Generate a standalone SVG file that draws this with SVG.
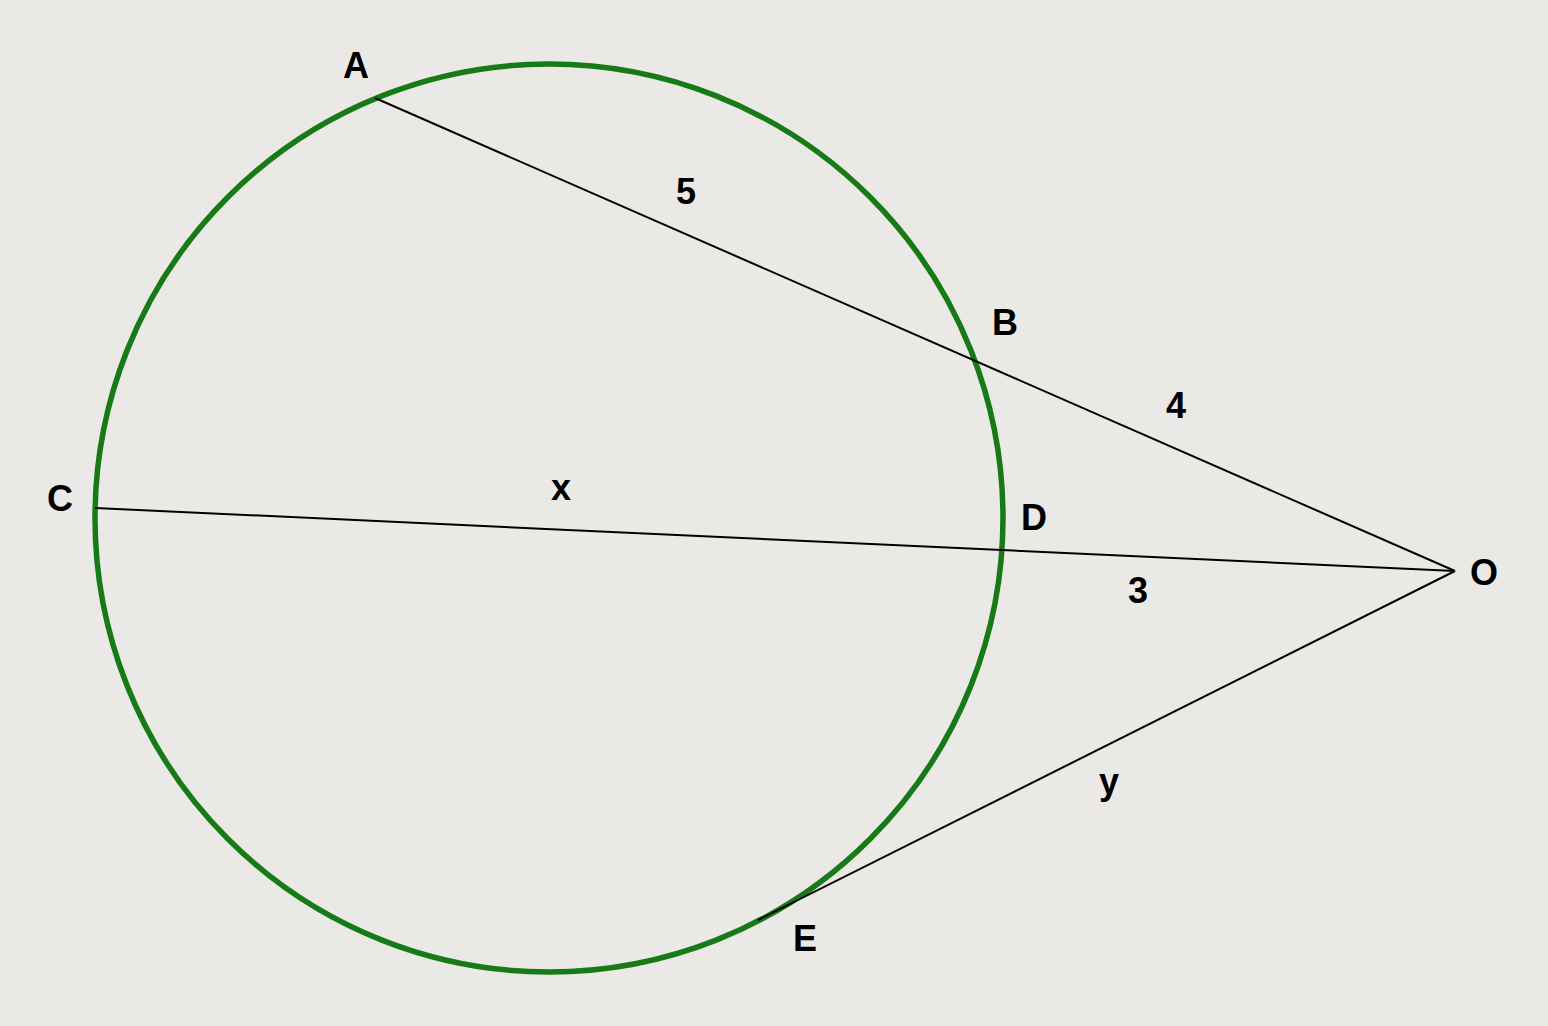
<svg xmlns="http://www.w3.org/2000/svg" width="1548" height="1026" viewBox="0 0 1548 1026">
<style>
.lbl{font-family:"Liberation Sans",Arial,sans-serif;font-weight:bold;font-size:36px;fill:#000;text-anchor:middle}
.seg{stroke:#000;stroke-width:2;fill:none}
</style>
<rect width="1548" height="1026" fill="#ebe9e6"/>
<g id="circle"><circle cx="549" cy="518" r="454" fill="none" stroke="#167a16" stroke-width="5.5"/></g>
<g id="connectors">
<line class="seg" x1="375" y1="98" x2="1455" y2="571"/>
<line class="seg" x1="95" y1="508" x2="1455" y2="571"/>
<line class="seg" x1="758" y1="920" x2="1455" y2="571"/>
</g>
<g id="A"><text class="lbl" x="356" y="78">A</text></g>
<g id="B"><text class="lbl" x="1005" y="335">B</text></g>
<g id="C"><text class="lbl" x="60" y="511">C</text></g>
<g id="D"><text class="lbl" x="1034" y="530">D</text></g>
<g id="O"><text class="lbl" x="1484" y="585">O</text></g>
<g id="E"><text class="lbl" x="805" y="951">E</text></g>
<g id="l5"><text class="lbl" x="686" y="204">5</text></g>
<g id="l4"><text class="lbl" x="1176" y="418">4</text></g>
<g id="lx"><text class="lbl" x="561" y="500">x</text></g>
<g id="l3"><text class="lbl" x="1138" y="603">3</text></g>
<g id="ly"><text class="lbl" x="1109" y="794">y</text></g>
</svg>
